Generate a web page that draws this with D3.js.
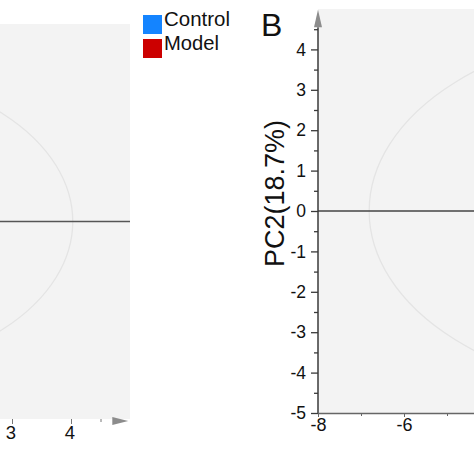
<!DOCTYPE html>
<html>
<head>
<meta charset="utf-8">
<script src="https://cdn.jsdelivr.net/npm/d3@7"></script>
<style>
  body { margin: 0; background: #fff; }
  svg { display: block; }
</style>
</head>
<body>
<div id="chart"></div>
<script>
// legend groups
var groups = ["Control", "Model"];
var groupColors = ["#1484ff", "#cc0000"];

// panel A (cropped, only its right edge shows)
var ticksA = [3, 4];
var minorTicksA = [4.5];
var ellipseA = [4.03, 3.85];   // semi axes (PC1, PC2) of the confidence ellipse

// panel B
var panelLabelB = "B";
var yTitleB = "PC2(18.7%)";
var yTicksB = [-5, -4, -3, -2, -1, 0, 1, 2, 3, 4];
var yMinorTicksB = [-4.5, -3.5, -2.5, -1.5, -0.5, 0.5, 1.5, 2.5, 3.5, 4.5];
var xTicksB = [-8, -6];
var xMinorTicksB = [-7, -5];
var ellipseB = [6.81, 4.5];

var W = 474, H = 474;

var svg = d3.select("#chart").append("svg")
    .attr("width", W)
    .attr("height", H);

var bg = "#f3f3f3",
    axisCol = "#3a3a3a",
    arrowCol = "#8c8c8c",
    ellCol = "#e4e4e4";

// plain hyphen as minus, like the original
var fmt = function (d) { return String(d); };

// ---------- panel A ----------
var xA = d3.scaleLinear().domain([-5, 5]).range([-460, 130]);
var yA = d3.scaleLinear().domain([-5, 5]).range([419, 24]);

var gA = svg.append("g").attr("class", "panelA");

gA.append("rect")
    .attr("x", xA(-5)).attr("y", yA(5))
    .attr("width", xA(5) - xA(-5))
    .attr("height", yA(-5) - yA(5))
    .attr("fill", bg);

gA.append("ellipse")
    .attr("cx", xA(0)).attr("cy", yA(0))
    .attr("rx", xA(ellipseA[0]) - xA(0))
    .attr("ry", yA(0) - yA(ellipseA[1]))
    .attr("fill", "none")
    .attr("stroke", ellCol)
    .attr("stroke-width", 1.3);

// zero line
gA.append("line")
    .attr("x1", xA(-5)).attr("x2", xA(5))
    .attr("y1", yA(0)).attr("y2", yA(0))
    .attr("stroke", "#555")
    .attr("stroke-width", 1.5);

var xAxisA = d3.axisBottom(xA).tickValues(ticksA).tickSize(5).tickPadding(2).tickFormat(fmt);
var gxA = gA.append("g")
    .attr("transform", "translate(0," + yA(-5) + ")")
    .call(xAxisA);
gxA.select(".domain").remove();
gxA.selectAll("line").attr("stroke", "#777");
gxA.selectAll("text")
    .attr("dx", "-1.5")
    .style("font", "18.5px 'Liberation Sans', Arial, sans-serif")
    .attr("fill", "#111");

var gxAm = gA.append("g")
    .attr("transform", "translate(0," + yA(-5) + ")")
    .call(d3.axisBottom(xA).tickValues(minorTicksA).tickSize(3).tickFormat(""));
gxAm.select(".domain").remove();
gxAm.selectAll("line").attr("stroke", "#777");

// arrow at the end of the x axis
var axY = yA(-5) + 2;
gA.append("path")
    .attr("d", "M" + xA(4.7) + "," + (axY - 4) + "L" + xA(4.97) + "," + axY + "L" + xA(4.7) + "," + (axY + 4) + "Z")
    .attr("fill", arrowCol);

// legend
var leg = svg.append("g").attr("transform", "translate(143,15)");
var li = leg.selectAll("g").data(groups).enter().append("g")
    .attr("transform", function (d, i) { return "translate(0," + (i * 24) + ")"; });
li.append("rect")
    .attr("width", 19).attr("height", 19)
    .attr("fill", function (d, i) { return groupColors[i]; });
li.append("text")
    .attr("x", 21).attr("y", 11)
    .attr("textLength", function (d, i) { return i === 0 ? 66 : 55; })
    .attr("lengthAdjust", "spacingAndGlyphs")
    .style("font", "20px 'Liberation Sans', Arial, sans-serif")
    .attr("fill", "#111")
    .text(function (d) { return d; });

// ---------- panel B ----------
var xB = d3.scaleLinear().domain([-8, 8]).range([318, 1006]);
var yB = d3.scaleLinear().domain([-5, 5]).range([413, 9]);

var gB = svg.append("g").attr("class", "panelB");

gB.append("rect")
    .attr("x", xB(-8)).attr("y", yB(5))
    .attr("width", xB(8) - xB(-8))
    .attr("height", yB(-5) - yB(5))
    .attr("fill", bg);

gB.append("ellipse")
    .attr("cx", xB(0)).attr("cy", yB(0))
    .attr("rx", xB(ellipseB[0]) - xB(0))
    .attr("ry", yB(0) - yB(ellipseB[1]))
    .attr("fill", "none")
    .attr("stroke", ellCol)
    .attr("stroke-width", 1.3);

gB.append("line")
    .attr("x1", xB(-8)).attr("x2", xB(8))
    .attr("y1", yB(0)).attr("y2", yB(0))
    .attr("stroke", "#444")
    .attr("stroke-width", 1.5);

// y axis
var gyB = gB.append("g")
    .attr("transform", "translate(" + xB(-8) + ",0)")
    .call(d3.axisLeft(yB).tickValues(yTicksB).tickSize(7).tickPadding(5).tickFormat(fmt));
gyB.select(".domain").remove();
gyB.selectAll("line").attr("stroke", axisCol).attr("stroke-width", 1.3);
gyB.selectAll("text")
    .style("font", "17.5px 'Liberation Sans', Arial, sans-serif")
    .attr("fill", "#111");

var gyBm = gB.append("g")
    .attr("transform", "translate(" + xB(-8) + ",0)")
    .call(d3.axisLeft(yB).tickValues(yMinorTicksB).tickSize(4).tickFormat(""));
gyBm.select(".domain").remove();
gyBm.selectAll("line").attr("stroke", axisCol).attr("stroke-width", 1.3);

gB.append("line")
    .attr("x1", xB(-8)).attr("x2", xB(-8))
    .attr("y1", yB(-5)).attr("y2", yB(4.55))
    .attr("stroke", axisCol)
    .attr("stroke-width", 1.5);

gB.append("path")
    .attr("d", "M" + (xB(-8) - 4) + "," + yB(4.55) + "L" + xB(-8) + "," + yB(4.98) + "L" + (xB(-8) + 4) + "," + yB(4.55) + "Z")
    .attr("fill", arrowCol);

// x axis
var gxB = gB.append("g")
    .attr("transform", "translate(0," + yB(-5) + ")")
    .call(d3.axisBottom(xB).tickValues(xTicksB).tickSize(4).tickPadding(1).tickSizeOuter(0).tickFormat(fmt));
gxB.select(".domain").attr("stroke", "#666").attr("stroke-width", 1.5);
gxB.selectAll("line").attr("stroke", "#666");
gxB.selectAll("text")
    .style("font", "18px 'Liberation Sans', Arial, sans-serif")
    .attr("fill", "#111");

var gxBm = gB.append("g")
    .attr("transform", "translate(0," + yB(-5) + ")")
    .call(d3.axisBottom(xB).tickValues(xMinorTicksB).tickSize(3).tickFormat(""));
gxBm.select(".domain").remove();
gxBm.selectAll("line").attr("stroke", "#666");

// axis title
gB.append("text")
    .attr("transform", "translate(284," + 193.5 + ") rotate(-90)")
    .attr("text-anchor", "middle")
    .style("font", "27px 'Liberation Sans', Arial, sans-serif")
    .attr("fill", "#111")
    .text(yTitleB);

// panel letter
svg.append("text")
    .attr("x", 261).attr("y", 36)
    .style("font", "32px 'Liberation Sans', Arial, sans-serif")
    .attr("fill", "#111")
    .text(panelLabelB);
</script>
</body>
</html>
